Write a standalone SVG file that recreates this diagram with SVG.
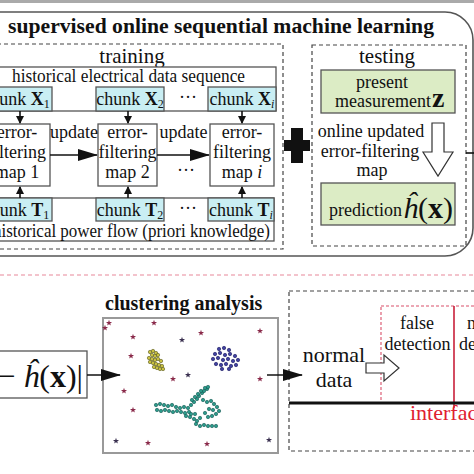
<svg xmlns="http://www.w3.org/2000/svg" width="474" height="474" viewBox="0 0 474 474">
<style>
text{font-family:"Liberation Serif","Times New Roman",serif;fill:#111}
.t18{font-size:18px}
.ttl{font-size:20px;font-weight:bold}
.sec{font-size:21px}
.box{fill:#fff;stroke:#555;stroke-width:1.3}
.chunk{fill:#c9eef3;stroke:#555;stroke-width:1.3}
.green{fill:#dcecc5;stroke:#555;stroke-width:1.3}
.dash{fill:none;stroke:#444;stroke-width:1.2;stroke-dasharray:4 3}
.ln{stroke:#111;stroke-width:1.6;fill:none}
.b{font-weight:bold}
.i{font-style:italic}
.star{fill:#8a2a4a}
.stard{fill:#3a3050}
.yl{fill:#c8c040;stroke:#5a5a20;stroke-width:0.6}
.bl{fill:#4040a0;stroke:#1a1a60;stroke-width:0.6}
.tl{fill:#2a9a8a;stroke:#1a5a55;stroke-width:0.6}
</style>
<defs>
<marker id="sm" markerWidth="8" markerHeight="8" refX="7" refY="4" orient="auto" markerUnits="userSpaceOnUse"><path d="M0,0 L8,4 L0,8 z" fill="#111"/></marker>
<marker id="bg" markerWidth="20" markerHeight="12" refX="19" refY="6" orient="auto" markerUnits="userSpaceOnUse"><path d="M0,0 L20,6 L0,12 z" fill="#111"/></marker>
<polygon id="st" points="0,-3.2 0.76,-1.05 3.04,-0.99 1.24,0.4 1.88,2.59 0,1.3 -1.88,2.59 -1.24,0.4 -3.04,-0.99 -0.76,-1.05"/>
<circle id="pt" r="1.7"/>
</defs>
<rect x="0" y="0" width="474" height="3" fill="#aaa"/>

<g id="outer">
<rect x="-30" y="12" width="503" height="244" rx="28" fill="none" stroke="#555" stroke-width="1.6"/>
<text x="8" y="33" class="ttl" textLength="426" lengthAdjust="spacingAndGlyphs">supervised online sequential machine learning</text>
</g>

<g id="training">
<rect x="-10" y="44" width="293" height="205" class="dash"/>
<text x="132" y="63" class="sec" text-anchor="middle">training</text>
</g>

<g id="historical-data">
<rect x="-5" y="67" width="281" height="44" class="box"/>
<text x="12" y="82" class="t18" textLength="233" lengthAdjust="spacingAndGlyphs">historical electrical data sequence</text>
</g>
<g id="chunkX1"><rect x="-16" y="87" width="68" height="24" class="chunk"/><text x="16" y="105" class="t18" text-anchor="middle">chunk <tspan class="b">X</tspan><tspan font-size="12" dy="3">1</tspan></text></g>
<g id="chunkX2"><rect x="96" y="87" width="68" height="24" class="chunk"/><text x="130" y="105" class="t18" text-anchor="middle">chunk <tspan class="b">X</tspan><tspan font-size="12" dy="3">2</tspan></text></g>
<text x="188" y="103" class="t18" text-anchor="middle">···</text>
<g id="chunkXi"><rect x="208" y="87" width="68" height="24" class="chunk"/><text x="242" y="105" class="t18" text-anchor="middle">chunk <tspan class="b">X</tspan><tspan font-size="12" dy="3" class="i">i</tspan></text></g>

<g id="map1"><rect x="-10" y="124" width="60" height="62" class="box"/>
<text class="t18" text-anchor="middle"><tspan x="17" y="138">error-</tspan><tspan x="17" y="158">filtering</tspan><tspan x="17" y="178">map 1</tspan></text></g>
<g id="map2"><rect x="98" y="124" width="59" height="62" class="box"/>
<text class="t18" text-anchor="middle"><tspan x="127.5" y="138">error-</tspan><tspan x="127.5" y="158">filtering</tspan><tspan x="127.5" y="178">map 2</tspan></text></g>
<g id="mapi"><rect x="210" y="124" width="64" height="62" class="box"/>
<text class="t18" text-anchor="middle"><tspan x="242" y="138">error-</tspan><tspan x="242" y="158">filtering</tspan><tspan x="242" y="178">map <tspan class="i">i</tspan></tspan></text></g>
<text x="74" y="138" class="t18" text-anchor="middle">update</text>
<text x="183.5" y="138" class="t18" text-anchor="middle">update</text>
<text x="186" y="176" class="t18" text-anchor="middle">···</text>

<g id="power-flow">
<rect x="-5" y="198" width="279" height="43" class="box"/>
<text x="-7" y="237" class="t18" textLength="277" lengthAdjust="spacingAndGlyphs">historical power flow (priori knowledge)</text>
</g>
<g id="chunkT1"><rect x="-16" y="198" width="68" height="23" class="chunk"/><text x="16" y="216" class="t18" text-anchor="middle">chunk <tspan class="b">T</tspan><tspan font-size="12" dy="3">1</tspan></text></g>
<g id="chunkT2"><rect x="96" y="198" width="68" height="23" class="chunk"/><text x="130" y="216" class="t18" text-anchor="middle">chunk <tspan class="b">T</tspan><tspan font-size="12" dy="3">2</tspan></text></g>
<text x="188" y="214" class="t18" text-anchor="middle">···</text>
<g id="chunkTi"><rect x="208" y="198" width="66" height="23" class="chunk"/><text x="241" y="216" class="t18" text-anchor="middle">chunk <tspan class="b">T</tspan><tspan font-size="12" dy="3" class="i">i</tspan></text></g>

<g id="plus"><path d="M291,128 H303 V140 H310 V151 H303 V163 H291 V151 H284 V140 H291 Z" fill="#111"/></g>

<g id="testing">
<rect x="312" y="45" width="154" height="201" class="dash"/>
<text x="387" y="63" class="sec" text-anchor="middle">testing</text>
</g>
<g id="present">
<rect x="321" y="70" width="134" height="43" class="green"/>
<text x="382" y="88" class="t18" font-size="17.5" text-anchor="middle">present</text>
<text x="335" y="107" class="t18" font-size="17.5">measurement</text>
<text x="432" y="107" font-size="28" class="b">z</text>
</g>
<g id="online-label">
<text class="t18" font-size="17.5" text-anchor="middle"><tspan x="371" y="137">online updated</tspan><tspan x="370" y="157">error-filtering</tspan><tspan x="372" y="176">map</tspan></text>
</g>
<g id="prediction">
<rect x="321" y="183" width="134" height="42" class="green"/>
<text x="329" y="216" class="t18">prediction</text>
<text x="403" y="218" font-size="30"><tspan class="i">ĥ</tspan>(<tspan class="b">x</tspan>)</text>
</g>

<g id="sep"><line x1="0" y1="275" x2="474" y2="275" stroke="#e8889a" stroke-width="1.2" stroke-dasharray="4 3"/></g>

<g id="residual">
<rect x="-40" y="351" width="127" height="47" class="box"/>
<text x="83" y="387" font-size="32" text-anchor="end">|<tspan class="b">z</tspan> − <tspan class="i">ĥ</tspan>(<tspan class="b">x</tspan>)|</text>
</g>

<g id="clustering">
<text x="105" y="310" class="ttl">clustering analysis</text>
<rect x="103" y="318" width="175" height="135" fill="#fff" stroke="#999" stroke-width="2"/>
<g class="star">
<use href="#st" x="105" y="328"/><use href="#st" x="109" y="323"/><use href="#st" x="154" y="323"/><use href="#st" x="133" y="337"/><use href="#st" x="201" y="333"/><use href="#st" x="260" y="331"/><use href="#st" x="131" y="356"/><use href="#st" x="173" y="379"/><use href="#st" x="260" y="379"/><use href="#st" x="124" y="391"/><use href="#st" x="133" y="410"/><use href="#st" x="148" y="443"/><use href="#st" x="207" y="444"/>
</g>
<g class="stard">
<use href="#st" x="182" y="340"/><use href="#st" x="188" y="375"/><use href="#st" x="116" y="441"/><use href="#st" x="269" y="440"/>
</g>
<g class="yl">
<use href="#pt" x="150" y="352"/><use href="#pt" x="153" y="351"/><use href="#pt" x="156" y="353"/><use href="#pt" x="152" y="355"/><use href="#pt" x="155" y="356"/><use href="#pt" x="158" y="355"/><use href="#pt" x="149" y="358"/><use href="#pt" x="152" y="359"/><use href="#pt" x="155" y="360"/><use href="#pt" x="158" y="359"/><use href="#pt" x="161" y="361"/><use href="#pt" x="150" y="362"/><use href="#pt" x="153" y="363"/><use href="#pt" x="156" y="364"/><use href="#pt" x="159" y="365"/><use href="#pt" x="162" y="366"/><use href="#pt" x="154" y="367"/><use href="#pt" x="157" y="368"/><use href="#pt" x="160" y="369"/><use href="#pt" x="163" y="369"/>
</g>
<g class="bl">
<use href="#pt" x="219" y="349"/><use href="#pt" x="224" y="348"/><use href="#pt" x="229" y="350"/><use href="#pt" x="215" y="354"/><use href="#pt" x="220" y="353"/><use href="#pt" x="225" y="355"/><use href="#pt" x="230" y="354"/><use href="#pt" x="235" y="356"/><use href="#pt" x="213" y="359"/><use href="#pt" x="218" y="358"/><use href="#pt" x="223" y="360"/><use href="#pt" x="228" y="359"/><use href="#pt" x="233" y="361"/><use href="#pt" x="238" y="360"/><use href="#pt" x="216" y="364"/><use href="#pt" x="221" y="365"/><use href="#pt" x="226" y="364"/><use href="#pt" x="231" y="366"/><use href="#pt" x="236" y="365"/><use href="#pt" x="222" y="369"/><use href="#pt" x="229" y="369"/>
</g>
<g class="tl">
<use href="#pt" x="156" y="405"/><use href="#pt" x="160" y="404"/><use href="#pt" x="164" y="405"/><use href="#pt" x="168" y="406"/><use href="#pt" x="172" y="405"/><use href="#pt" x="176" y="407"/><use href="#pt" x="180" y="408"/><use href="#pt" x="184" y="407"/><use href="#pt" x="157" y="410"/><use href="#pt" x="161" y="411"/><use href="#pt" x="165" y="410"/><use href="#pt" x="169" y="411"/><use href="#pt" x="173" y="412"/><use href="#pt" x="177" y="411"/><use href="#pt" x="181" y="412"/><use href="#pt" x="185" y="413"/><use href="#pt" x="189" y="412"/>
<use href="#pt" x="188" y="408"/><use href="#pt" x="191" y="405"/><use href="#pt" x="194" y="402"/><use href="#pt" x="197" y="399"/><use href="#pt" x="199" y="396"/><use href="#pt" x="202" y="393"/><use href="#pt" x="204" y="391"/><use href="#pt" x="207" y="389"/><use href="#pt" x="192" y="400"/><use href="#pt" x="195" y="397"/><use href="#pt" x="198" y="394"/><use href="#pt" x="201" y="391"/><use href="#pt" x="205" y="388"/><use href="#pt" x="208" y="387"/>
<use href="#pt" x="186" y="416"/><use href="#pt" x="190" y="417"/><use href="#pt" x="194" y="419"/><use href="#pt" x="197" y="421"/><use href="#pt" x="200" y="418"/><use href="#pt" x="191" y="414"/><use href="#pt" x="195" y="414"/>
<use href="#pt" x="203" y="400"/><use href="#pt" x="207" y="402"/><use href="#pt" x="211" y="401"/><use href="#pt" x="214" y="404"/><use href="#pt" x="217" y="407"/><use href="#pt" x="219" y="411"/><use href="#pt" x="216" y="414"/><use href="#pt" x="212" y="416"/><use href="#pt" x="208" y="417"/><use href="#pt" x="205" y="413"/><use href="#pt" x="209" y="409"/><use href="#pt" x="213" y="410"/>
<use href="#pt" x="196" y="424"/><use href="#pt" x="200" y="426"/><use href="#pt" x="204" y="425"/><use href="#pt" x="208" y="426"/><use href="#pt" x="212" y="426"/><use href="#pt" x="216" y="426"/>
</g>
</g>

<g id="detection">
<rect x="289" y="291" width="210" height="160" class="dash"/>
<text font-size="22" text-anchor="middle"><tspan x="334" y="362">normal</tspan><tspan x="334" y="387">data</tspan></text>
<rect x="381" y="306" width="120" height="97" fill="none" stroke="#d9506a" stroke-width="1.1" stroke-dasharray="3 2"/>
<line x1="454" y1="306" x2="454" y2="408" stroke="#c8203a" stroke-width="1.6"/>
<text class="t18" text-anchor="middle"><tspan x="417" y="329">false</tspan><tspan x="417.5" y="350">detection</tspan></text>
<text x="467" y="329" class="t18">n</text>
<text x="459" y="350" class="t18">de</text>
<line x1="289" y1="403" x2="474" y2="403" stroke="#111" stroke-width="3"/>
<text x="410" y="420" font-size="22" style="fill:#e02030">interfac</text>
</g>

<g id="connectors">
<line x1="20" y1="111" x2="20" y2="123" class="ln" marker-end="url(#sm)"/>
<line x1="128" y1="111" x2="128" y2="123" class="ln" marker-end="url(#sm)"/>
<line x1="242" y1="111" x2="242" y2="123" class="ln" marker-end="url(#sm)"/>
<line x1="20" y1="198" x2="20" y2="187" class="ln" marker-end="url(#sm)"/>
<line x1="128" y1="198" x2="128" y2="187" class="ln" marker-end="url(#sm)"/>
<line x1="242" y1="198" x2="242" y2="187" class="ln" marker-end="url(#sm)"/>
<line x1="50" y1="155" x2="97" y2="155" class="ln" stroke-width="2" marker-end="url(#bg)"/>
<line x1="157" y1="155" x2="209" y2="155" class="ln" stroke-width="2" marker-end="url(#bg)"/>
<polygon points="432,123 444,123 444,152 453,152 438,176 423,152 432,152" fill="#fff" stroke="#333" stroke-width="1.2"/>
<line x1="466" y1="153" x2="474" y2="153" class="ln"/>
<line x1="87" y1="375" x2="120" y2="375" class="ln" stroke-width="2" marker-end="url(#bg)"/>
<line x1="267" y1="375" x2="302" y2="375" class="ln" stroke-width="2" marker-end="url(#bg)"/>
<polygon points="366,363 384,363 384,355 399,368 384,381 384,373 366,373" fill="#fff" stroke="#333" stroke-width="1.2"/>
</g>
</svg>
